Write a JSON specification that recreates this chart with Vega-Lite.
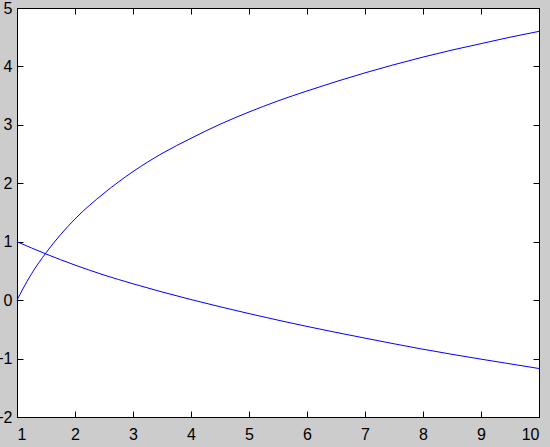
{
  "$schema": "https://vega.github.io/schema/vega-lite/v6.json",
  "description": "Two curves on a MATLAB-style figure: 2*ln(x) rising and a slowly falling curve.",
  "width": 522,
  "height": 409,
  "autosize": {"type": "none"},
  "padding": {"left": 17, "top": 8, "right": 11, "bottom": 30},
  "background": "#cccccc",
  "config": {
    "view": {"fill": "white", "stroke": "black", "strokeWidth": 1},
    "axis": {
      "grid": false,
      "domainColor": "black",
      "tickColor": "black",
      "tickSize": -6,
      "labelFont": "Liberation Sans",
      "labelFontSize": 16,
      "labelColor": "black",
      "title": null
    }
  },
  "data": {
    "values": [
      {"series": "a", "x": 1, "y": 0},
      {"series": "a", "x": 1.1, "y": 0.19},
      {"series": "a", "x": 1.25, "y": 0.45},
      {"series": "a", "x": 1.5, "y": 0.81},
      {"series": "a", "x": 1.75, "y": 1.12},
      {"series": "a", "x": 2, "y": 1.39},
      {"series": "a", "x": 2.5, "y": 1.83},
      {"series": "a", "x": 3, "y": 2.2},
      {"series": "a", "x": 3.5, "y": 2.51},
      {"series": "a", "x": 4, "y": 2.77},
      {"series": "a", "x": 4.5, "y": 3.01},
      {"series": "a", "x": 5, "y": 3.22},
      {"series": "a", "x": 5.5, "y": 3.41},
      {"series": "a", "x": 6, "y": 3.58},
      {"series": "a", "x": 6.5, "y": 3.74},
      {"series": "a", "x": 7, "y": 3.89},
      {"series": "a", "x": 7.5, "y": 4.03},
      {"series": "a", "x": 8, "y": 4.16},
      {"series": "a", "x": 8.5, "y": 4.28},
      {"series": "a", "x": 9, "y": 4.39},
      {"series": "a", "x": 9.5, "y": 4.5},
      {"series": "a", "x": 10, "y": 4.6},
      {"series": "b", "x": 1, "y": 1},
      {"series": "b", "x": 1.5, "y": 0.79},
      {"series": "b", "x": 2, "y": 0.6},
      {"series": "b", "x": 2.5, "y": 0.43},
      {"series": "b", "x": 3, "y": 0.28},
      {"series": "b", "x": 3.5, "y": 0.14},
      {"series": "b", "x": 4, "y": 0.01},
      {"series": "b", "x": 5, "y": -0.23},
      {"series": "b", "x": 6, "y": -0.45},
      {"series": "b", "x": 7, "y": -0.65},
      {"series": "b", "x": 8, "y": -0.84},
      {"series": "b", "x": 9, "y": -1.01},
      {"series": "b", "x": 10, "y": -1.17}
    ]
  },
  "encoding": {
    "x": {"field": "x", "type": "quantitative", "scale": {"domain": [1, 10], "nice": false, "zero": false}},
    "y": {"field": "y", "type": "quantitative", "scale": {"domain": [-2, 5], "nice": false, "zero": false}},
    "detail": {"field": "series"}
  },
  "layer": [
    {
      "mark": {"type": "line", "color": "#0000ff", "strokeWidth": 1, "interpolate": "monotone"},
      "encoding": {
        "x": {"field": "x", "type": "quantitative", "axis": {"values": [1, 2, 3, 4, 5, 6, 7, 8, 9, 10], "labelPadding": 15}},
        "y": {"field": "y", "type": "quantitative", "axis": {"values": [-2, -1, 0, 1, 2, 3, 4, 5], "labelPadding": 11}}
      }
    },
    {
      "mark": {"type": "line", "opacity": 0},
      "encoding": {
        "x": {"field": "x", "type": "quantitative", "axis": {"orient": "top", "values": [1, 2, 3, 4, 5, 6, 7, 8, 9, 10], "labels": false}},
        "y": {"field": "y", "type": "quantitative", "axis": {"orient": "right", "values": [-2, -1, 0, 1, 2, 3, 4, 5], "labels": false}}
      }
    }
  ],
  "resolve": {"axis": {"x": "independent", "y": "independent"}}
}
